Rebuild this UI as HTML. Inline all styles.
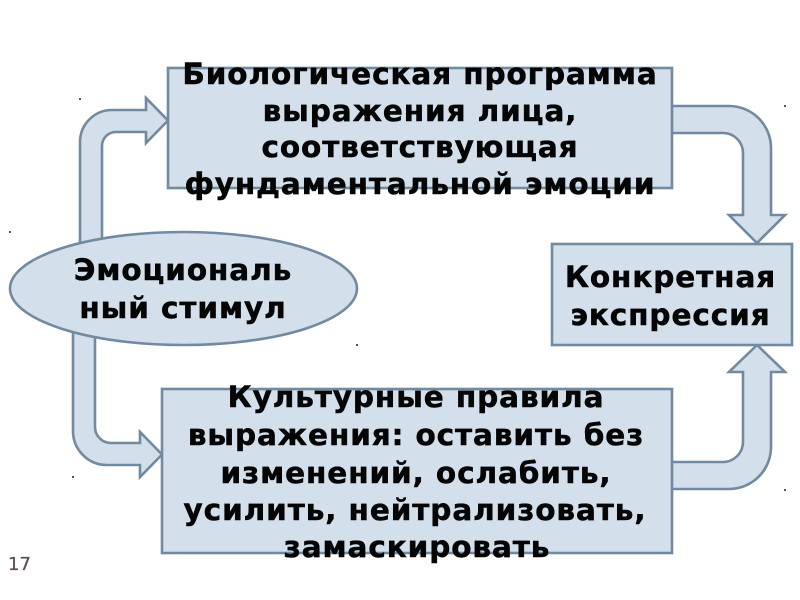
<!DOCTYPE html>
<html>
<head>
<meta charset="utf-8">
<style>
html,body{margin:0;padding:0;background:#fff;width:800px;height:600px;overflow:hidden}
svg{display:block}
.s{fill:#d3e0ec;stroke:#728aa0;stroke-width:2.6}
text{font-family:"DejaVu Sans",sans-serif;font-weight:bold;font-size:29.5px;fill:#050505;stroke:#050505;stroke-width:.5px;text-anchor:middle;letter-spacing:.9px}
</style>
</head>
<body>
<svg width="800" height="600" viewBox="0 0 800 600" xmlns="http://www.w3.org/2000/svg">
<rect width="800" height="600" fill="#fff"/>
<!-- arrows -->
<path class="s" d="M80 260V142A32 32 0 0 1 112 110H146V98L168 120.500L146 143V132H116A14 14 0 0 0 102 146V260Z"/>
<path class="s" d="M73 320V431A34 34 0 0 0 107 465H140V477L162 454.500L140 432V443H111A16 16 0 0 1 95 427V320Z"/>
<path class="s" d="M670 106H729A42 42 0 0 1 771 148V215H785L757 243L729 215H743V153A20 20 0 0 0 723 133H670Z"/>
<path class="s" d="M670 489H729A42 42 0 0 0 771 447V372H785L757 345L729 372H743V442A20 20 0 0 1 723 462H670Z"/>
<!-- shapes -->
<rect class="s" x="168" y="68" width="504" height="120"/>
<rect class="s" x="162" y="389" width="510" height="164"/>
<rect class="s" x="552" y="244" width="240" height="101"/>
<ellipse class="s" cx="183.500" cy="288.500" rx="173.500" ry="56.500"/>
<!-- text -->
<text x="420" y="84">Биологическая программа</text>
<text x="420" y="121">выражения лица,</text>
<text x="420" y="157">соответствующая</text>
<text x="420" y="194">фундаментальной эмоции</text>
<text x="183" y="280">Эмоциональ</text>
<text x="183" y="318">ный стимул</text>
<text x="670.500" y="287">Конкретная</text>
<text x="670.500" y="325">экспрессия</text>
<text x="416" y="407">Культурные правила</text>
<text x="416" y="445">выражения: оставить без</text>
<text x="416" y="483">изменений, ослабить,</text>
<text x="415" y="520">усилить, нейтрализовать,</text>
<text x="417" y="557">замаскировать</text>
<text x="19.500" y="570" style="font-size:18px;font-weight:normal;fill:#5f504c;stroke:#5f504c;stroke-width:.3px;letter-spacing:0">17</text>
<!-- specks -->
<g fill="#555">
<rect x="79" y="98" width="2" height="2"/>
<rect x="9" y="231" width="2" height="2"/>
<rect x="356" y="344" width="2" height="2"/>
<rect x="72" y="476" width="2" height="2"/>
<rect x="784" y="105" width="2" height="2"/>
<rect x="784" y="489" width="2" height="2"/>
</g>
</svg>
</body>
</html>
